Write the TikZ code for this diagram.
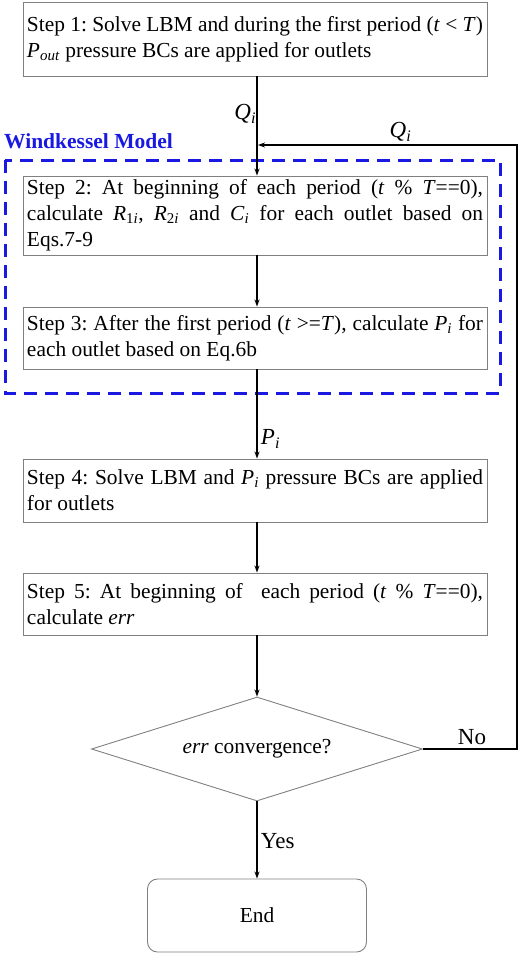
\documentclass[tikz,border=0pt]{standalone}
\usepackage{fontspec}
\setmainfont{Liberation Serif}
\usetikzlibrary{arrows.meta,shapes.geometric,positioning}
\definecolor{wkblue}{RGB}{25,25,225}
\frenchspacing

\begin{document}
\begin{tikzpicture}[x=1pt,y=-1pt,
        stepbox/.style={draw=gray,line width=0.9pt,fill=white,minimum width=464pt,text width=456pt,inner xsep=4pt,inner ysep=2pt,align=justify,font=\fontsize{21.4}{26}\selectfont},
        flow/.style={-{Stealth[length=7pt,width=5pt]},line width=1.3pt},
        lbl/.style={font=\fontsize{23}{26}\selectfont}]
        \useasboundingbox (0,0) rectangle (520,955);

        \def\mx{257}

        % windkessel frame
        \draw [wkblue,line width=3pt,dash pattern=on 13pt off 8pt] (5,160) rectangle (500,393);
        \node [anchor=west,text=wkblue,font=\bfseries\fontsize{21.5}{24}\selectfont,inner sep=0pt] (wk) at (4,141) {Windkessel Model};

        \node [stepbox,minimum height=74pt] (s1) at (255,39) {Step 1: Solve LBM and during the first period (\textit{t} < \textit{T})\linebreak \textit{P}\textsubscript{\textit{out}} pressure BCs are applied for outlets};
        \node [stepbox,minimum height=79pt] (s2) at (255,215.5) {Step 2: At beginning of each period (\textit{t} \% \textit{T}==0),\linebreak calculate \textit{R}\textsubscript{1\textit{i}}, \textit{R}\textsubscript{2\textit{i}} and \textit{C}\textsubscript{\textit{i}} for each outlet based on\linebreak Eqs.7-9};
        \node [stepbox,minimum height=62pt] (s3) at (255,338) {Step 3: After the first period (\textit{t} >=\textit{T}), calculate \textit{P}\textsubscript{\textit{i}} for\linebreak each outlet based on Eq.6b};
        \node [stepbox,minimum height=63pt] (s4) at (255,490.5) {Step 4: Solve LBM and \textit{P}\textsubscript{\textit{i}} pressure BCs are applied\linebreak for outlets};
        \node [stepbox,minimum height=62pt] (s5) at (255,604) {Step 5: At beginning of \ each period (\textit{t} \% \textit{T}==0),\linebreak calculate \textit{err}};
        \node [diamond,aspect=3.2,draw=gray,line width=0.9pt,minimum width=331pt,minimum height=104pt,inner sep=0pt,font=\fontsize{21.4}{24}\selectfont] (dec) at (\mx,749) {\textit{err} convergence?};
        \node [draw=gray,line width=0.9pt,rounded corners=10pt,minimum width=219pt,minimum height=73pt,font=\fontsize{21.4}{24}\selectfont] (end) at (\mx,915.5) {End};

        \coordinate (c1) at (517,749);
        \coordinate (c2) at (517,145);
        \coordinate (fb) at (\mx,145);

        \draw [flow] (s1.south -| fb) -- node [lbl,left,pos=0.38,xshift=3pt] {\textit{Q}\textsubscript{\textit{i}}} (s2.north -| fb);
        \draw [flow] (s2.south -| fb) -- (s3.north -| fb);
        \draw [flow] (s3.south -| fb) -- node [lbl,right,pos=0.78] {\textit{P}\textsubscript{\textit{i}}} (s4.north -| fb);
        \draw [flow] (s4.south -| fb) -- (s5.north -| fb);
        \draw [flow] (s5.south -| fb) -- (dec.north);
        \draw [flow] (dec.south) -- node [lbl,right,pos=0.52] {Yes} (end.north);
        \draw [flow] (dec.east) -- node [lbl,above,xshift=2pt] {No} (c1) -- (c2) -- node [lbl,above,pos=0.45] {\textit{Q}\textsubscript{\textit{i}}} ([xshift=1pt]fb);
\end{tikzpicture}
\end{document}
